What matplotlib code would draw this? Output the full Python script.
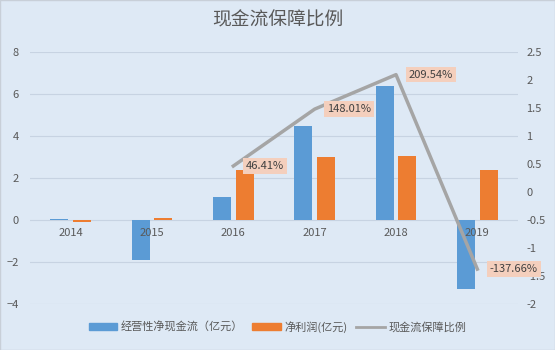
import numpy as np
import matplotlib
matplotlib.use('Agg')
import matplotlib.pyplot as plt
from matplotlib.patches import Patch
from matplotlib.lines import Line2D

plt.rcParams['font.family'] = ['Noto Sans CJK SC', 'DejaVu Sans']

# 数据
years = ['2014', '2015', '2016', '2017', '2018', '2019']
cash_flow = [0.03, -1.90, 1.11, 4.48, 6.38, -3.29]     # 经营性净现金流（亿元）
net_profit = [-0.10, 0.08, 2.38, 3.02, 3.05, 2.38]     # 净利润(亿元)
ratio_years = ['2016', '2017', '2018', '2019']
ratio = [0.4641, 1.4801, 2.0954, -1.3766]              # 现金流保障比例
ratio_labels = ['46.41%', '148.01%', '209.54%', '-137.66%']

bg = '#dee9f5'
blue = '#5b9bd5'
orange = '#ed7d31'
grey = '#a5a5a5'
txt = '#595959'

fig = plt.figure(figsize=(5.55, 3.5), dpi=100, facecolor=bg)
fig.patches.append(plt.Rectangle((0, 0), 1, 1, transform=fig.transFigure,
                                 fill=False, edgecolor='#c8cfd8', lw=1))
ax = fig.add_axes([30 / 555, 1 - 304 / 350, 488 / 555, 252 / 350])
ax.set_facecolor(bg)

x = np.arange(len(years))
w = 0.22
ax.bar(x - 0.14, cash_flow, w, color=blue, zorder=2)
ax.bar(x + 0.14, net_profit, w, color=orange, zorder=2)

ax.set_xlim(-0.5, len(years) - 0.5)
ax.set_ylim(-4, 8)
ax.set_yticks(np.arange(-4, 9, 2))
ax.yaxis.grid(True, color='#c7d3e2', lw=0.8)
ax.set_xticks(x)
ax.set_xticklabels(years)
ax.spines['bottom'].set_position(('data', 0))
for s in ax.spines.values():
    s.set_visible(False)
ax.tick_params(axis='both', length=0, colors=txt, labelsize=8)
ax.tick_params(axis='x', pad=6)
ax.tick_params(axis='y', pad=8)
# 网格在柱子下面，年份标签在柱子上面
ax.yaxis.set_zorder(0.5)
ax.xaxis.set_zorder(4)

ax2 = ax.twinx()
xr = [years.index(y) for y in ratio_years]
ax2.plot(xr, ratio, color=grey, lw=2.5, zorder=4)
ax2.set_ylim(-2, 2.5)
ax2.set_yticks(np.arange(-2, 2.6, 0.5))
ax2.set_yticklabels(['-2', '-1.5', '-1', '-0.5', '0', '0.5', '1', '1.5', '2', '2.5'])
for s in ax2.spines.values():
    s.set_visible(False)
ax2.tick_params(axis='y', length=0, colors=txt, labelsize=8, pad=6)

for xi, v, lab in zip(xr, ratio, ratio_labels):
    ax2.annotate(lab, (xi, v), xytext=(9, 0), textcoords='offset points',
                 ha='left', va='center', fontsize=8, color='#404040', zorder=6,
                 bbox=dict(boxstyle='square,pad=0.25', fc='#f4cfbd', ec='none'))

fig.text(0.5, 1 - 20 / 350, '现金流保障比例', ha='center', va='center',
         fontsize=13.5, color='#595959')

handles = [Patch(color=blue), Patch(color=orange), Line2D([], [], color=grey, lw=2)]
names = ['经营性净现金流（亿元）', '净利润(亿元)', '现金流保障比例']
fig.legend(handles, names, loc='center', bbox_to_anchor=(0.5, 1 - 327 / 350),
           ncol=3, frameon=False, fontsize=8, labelcolor=txt,
           handlelength=2.6, handleheight=0.6, columnspacing=0.8, handletextpad=0.3)

fig.savefig('out.png', dpi=100, facecolor=bg)
